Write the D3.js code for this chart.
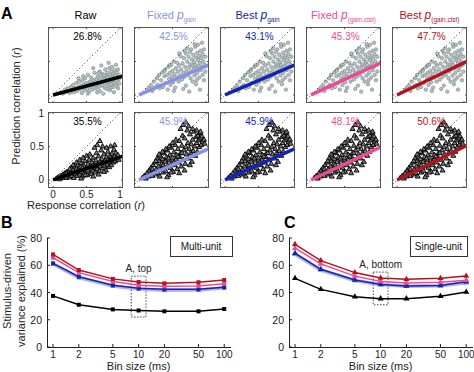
<!DOCTYPE html>
<html><head><meta charset="utf-8">
<script src="https://cdn.jsdelivr.net/npm/d3@7"></script>
<style>
html,body{margin:0;padding:0;background:#fff;}
svg{display:block;font-family:"Liberation Sans",Arial,Helvetica,sans-serif;}
</style></head>
<body><svg id="c" width="474" height="372"></svg>
<script>
// ---------- DATA ----------
const modelNames = ["Raw","Fixed","Best","Fixed","Best"];
const modelSubs = ["","gain","gain","(gain,clst)","(gain,clst)"];
const modelColors = ["#000000","#8792e4","#1424ae","#ec4b94","#b3131f"];
const topPercents = ["26.8%","42.5%","43.1%","45.3%","47.7%"];
const bottomPercents = ["35.5%","45.9%","45.9%","48.1%","50.6%"];
const topSlopes = [0.27,0.43,0.43,0.46,0.48];
const bottomSlopes = [0.34,0.45,0.45,0.475,0.495];
const scatterTicks = [0,0.5,1];
const scatterTickLabels = ["0","0.5","1"];

const xTop = [0.12,0.15,0.18,0.20,0.22,0.25,0.27,0.28,0.30,0.31,0.33,0.35,0.36,0.38,0.39,0.40,0.42,0.43,0.44,0.45,0.46,0.47,0.48,0.49,0.50,0.51,0.52,0.53,0.54,0.55,0.56,0.57,0.58,0.59,0.60,0.61,0.62,0.63,0.64,0.65,0.66,0.67,0.68,0.69,0.70,0.70,0.71,0.72,0.73,0.74,0.75,0.75,0.76,0.77,0.78,0.78,0.79,0.80,0.80,0.81,0.82,0.82,0.83,0.84,0.84,0.85,0.85,0.86,0.87,0.87,0.88,0.88,0.89,0.90,0.90,0.91,0.91,0.92,0.92,0.93,0.94,0.94,0.95,0.95,0.96,0.97,0.97,0.98,0.99,0.99,0.60,0.72,0.52,0.66,0.83,0.45,0.38,0.76,0.86,0.68];
const yTopRaw = [0.04,0.02,0.08,0.05,0.10,0.03,0.12,0.07,0.15,0.04,0.10,0.18,0.06,0.12,0.20,0.09,0.14,0.03,0.22,0.11,0.16,0.07,0.25,0.13,0.18,0.09,0.30,0.15,0.05,0.20,0.12,0.26,0.17,0.08,0.22,0.14,0.33,0.19,0.10,0.24,0.16,0.28,0.12,0.21,0.35,0.06,0.18,0.26,0.14,0.31,0.20,0.02,0.24,0.11,0.38,0.17,0.28,0.22,0.09,0.33,0.19,0.26,0.14,0.40,0.23,0.30,0.07,0.20,0.35,0.16,0.27,0.42,0.22,0.12,0.31,0.25,0.04,0.37,0.18,0.29,0.21,0.45,0.14,0.33,0.26,0.10,0.38,0.23,0.30,0.17,0.40,0.44,0.02,0.04,0.48,0.28,0.25,0.30,0.11,0.33];
const yTopModel = [0.08,0.10,0.14,0.06,0.20,0.12,0.25,0.15,0.30,0.10,0.22,0.34,0.12,0.28,0.38,0.18,0.30,0.08,0.42,0.24,0.33,0.15,0.45,0.27,0.36,0.19,0.50,0.31,0.11,0.40,0.26,0.48,0.35,0.20,0.44,0.29,0.58,0.38,0.23,0.47,0.33,0.55,0.27,0.42,0.62,0.14,0.36,0.50,0.30,0.57,0.41,0.05,0.46,0.25,0.68,0.35,0.53,0.44,0.20,0.60,0.39,0.49,0.29,0.72,0.45,0.56,0.16,0.40,0.63,0.33,0.52,0.75,0.43,0.26,0.58,0.48,0.08,0.66,0.37,0.55,0.42,0.78,0.30,0.61,0.50,0.22,0.68,0.45,0.57,0.35,0.62,0.70,0.06,0.09,0.76,0.44,0.36,0.64,0.22,0.66];

const xBot = [0.05,0.08,0.10,0.12,0.14,0.15,0.17,0.18,0.20,0.21,0.22,0.24,0.25,0.26,0.27,0.28,0.29,0.30,0.31,0.32,0.33,0.34,0.35,0.36,0.37,0.38,0.39,0.40,0.41,0.42,0.43,0.44,0.45,0.46,0.47,0.48,0.49,0.50,0.51,0.52,0.53,0.54,0.55,0.56,0.57,0.58,0.59,0.60,0.61,0.62,0.63,0.64,0.65,0.66,0.67,0.68,0.69,0.70,0.71,0.72,0.73,0.74,0.75,0.76,0.77,0.78,0.79,0.80,0.81,0.82,0.83,0.84,0.85,0.86,0.87,0.88,0.89,0.90,0.91,0.92,0.93,0.94,0.95,0.97,0.98,0.35,0.40,0.30,0.45,0.50,0.55,0.60,0.66,0.70,0.74,0.62,0.68,0.25,0.20,0.44,0.52,0.58,0.64,0.76,0.80,0.86,0.92,0.48,0.36,0.42];
const yBotRaw = [0.02,0.04,0.01,0.06,0.03,0.08,0.05,0.10,0.03,0.12,0.07,0.14,0.04,0.09,0.18,0.06,0.11,0.15,0.03,0.20,0.09,0.13,0.17,0.06,0.22,0.11,0.15,0.08,0.19,0.25,0.12,0.05,0.16,0.21,0.10,0.28,0.14,0.18,0.07,0.23,0.12,0.30,0.16,0.20,0.09,0.26,0.14,0.33,0.18,0.22,0.11,0.29,0.40,0.16,0.24,0.35,0.13,0.27,0.20,0.44,0.31,0.17,0.25,0.38,0.21,0.29,0.14,0.34,0.23,0.42,0.27,0.19,0.36,0.30,0.22,0.39,0.33,0.26,0.45,0.35,0.28,0.40,0.32,0.37,0.30,0.26,0.30,0.22,0.33,0.36,0.38,0.05,0.52,0.58,0.50,0.48,0.08,0.16,0.09,0.18,0.14,0.19,0.21,0.12,0.48,0.50,0.52,0.07,0.12,0.02];
const yBotModel = [0.03,0.06,0.02,0.10,0.05,0.14,0.08,0.18,0.06,0.22,0.12,0.26,0.08,0.16,0.32,0.10,0.20,0.28,0.05,0.35,0.15,0.24,0.31,0.11,0.40,0.19,0.27,0.13,0.34,0.44,0.21,0.07,0.29,0.37,0.18,0.48,0.25,0.33,0.12,0.41,0.22,0.52,0.30,0.37,0.16,0.46,0.26,0.58,0.34,0.40,0.20,0.51,0.66,0.30,0.44,0.62,0.24,0.49,0.38,0.74,0.55,0.32,0.46,0.68,0.40,0.53,0.27,0.60,0.43,0.72,0.50,0.36,0.64,0.55,0.42,0.66,0.59,0.49,0.70,0.62,0.52,0.65,0.57,0.60,0.54,0.42,0.46,0.38,0.50,0.55,0.60,0.10,0.82,0.86,0.80,0.76,0.14,0.28,0.16,0.32,0.26,0.35,0.40,0.22,0.76,0.74,0.72,0.11,0.22,0.04];

const binSizes = [1,2,5,10,20,50,100];
const binTickLabels = ["1","2","5","10","20","50","100"];
const varTicks = [0,20,40,60,80];
const multiRaw = [37.5,31,27.6,26.8,26.2,26.2,27.9];
const multiFixedGain = [61,51,44.8,42.5,41.6,41.8,43.4];
const multiBestGain = [61.4,51.6,45.3,43.1,42.3,42.3,43.8];
const multiFixedClst = [65.5,54.6,48,45.3,44.5,44.8,46.5];
const multiBestClst = [68,56.5,50,47.7,46.7,47.5,49.2];
const singleRaw = [50.4,42.3,36.9,35.5,35.5,37.2,40.4];
const singleFixedGain = [68,56.5,48.8,45.9,44.6,45,47.2];
const singleBestGain = [68.8,57,49.2,45.9,44.8,45.2,47.9];
const singleFixedClst = [72.5,61,52,48.1,47,47.5,49];
const singleBestClst = [75.4,63.4,54.6,50.6,49.7,50.4,52.1];

// ---------- DRAW ----------
const svg = d3.select("#c");
const panelLefts = [48,134,220,306,392];
const rowTops = [27,112];
const PW = 75, PH = 76;
const TXT = "#222";

function addTitle(g, x, y, name, sub, color){
  const t = g.append("text").attr("x",x).attr("y",y).attr("text-anchor","middle")
    .attr("font-size",11).attr("fill",color);
  t.append("tspan").text(name + (sub ? " " : ""));
  if(sub){
    t.append("tspan").attr("font-style","italic").attr("font-size",12).text("p");
    t.append("tspan").attr("font-size",6.5).attr("dy",3).text(sub);
  }
}

svg.append("text").attr("x",1).attr("y",19).attr("font-size",16).attr("font-weight","bold").text("A");

const rows = [
  {x:xTop, yRaw:yTopRaw, yModel:yTopModel, perc:topPercents, slopes:topSlopes, marker:"circle"},
  {x:xBot, yRaw:yBotRaw, yModel:yBotModel, perc:bottomPercents, slopes:bottomSlopes, marker:"tri"}
];

rows.forEach((row, ri) => {
  const n = Math.min(row.x.length, row.yRaw.length, row.yModel.length);
  modelNames.forEach((name, pi) => {
    const left = panelLefts[pi], top = rowTops[ri];
    const xs = d3.scaleLinear().domain([-0.075,1.045]).range([left, left+PW]);
    const ys = d3.scaleLinear().domain([-0.12,1.015]).range([top+PH, top]);
    const g = svg.append("g");
    const clipId = "clip"+ri+"_"+pi;
    g.append("clipPath").attr("id",clipId).append("rect")
      .attr("x",left).attr("y",top).attr("width",PW).attr("height",PH);
    const inner = g.append("g").attr("clip-path","url(#"+clipId+")");
    const yv = pi===0 ? row.yRaw : row.yModel;
    const pts = d3.range(n).map(i => [row.x[i], yv[i]]);
    if(row.marker==="circle"){
      inner.selectAll("circle").data(pts).join("circle")
        .attr("cx",d=>xs(d[0])).attr("cy",d=>ys(d[1])).attr("r",1.7)
        .attr("fill","#b9c3c3").attr("stroke","#7b8a8a").attr("stroke-width",0.7);
    } else {
      const sym = d3.symbol().type(d3.symbolTriangle).size(11);
      inner.selectAll("path.pt").data(pts).join("path").attr("class","pt")
        .attr("d",sym).attr("transform",d=>`translate(${xs(d[0])},${ys(d[1])})`)
        .attr("fill","#777").attr("stroke","#000").attr("stroke-width",0.9);
    }
    inner.append("line").attr("x1",xs(-0.1)).attr("y1",ys(-0.1)).attr("x2",xs(1.05)).attr("y2",ys(1.05))
      .attr("stroke","#333").attr("stroke-width",1).attr("stroke-dasharray","1,2.6");
    const s = row.slopes[pi];
    inner.append("line").attr("x1",xs(0)).attr("y1",ys(0)).attr("x2",xs(1.045)).attr("y2",ys(1.045*s))
      .attr("stroke",modelColors[pi]).attr("stroke-width",3.5);
    g.append("rect").attr("x",left+0.5).attr("y",top+0.5).attr("width",PW-1).attr("height",PH-1)
      .attr("fill","none").attr("stroke","#555").attr("stroke-width",1);
    scatterTicks.forEach(t => {
      g.append("line").attr("x1",xs(t)).attr("x2",xs(t)).attr("y1",top+PH).attr("y2",top+PH-2).attr("stroke","#555");
      g.append("line").attr("x1",xs(t)).attr("x2",xs(t)).attr("y1",top).attr("y2",top+2).attr("stroke","#555");
      g.append("line").attr("y1",ys(t)).attr("y2",ys(t)).attr("x1",left).attr("x2",left+2).attr("stroke","#555");
      g.append("line").attr("y1",ys(t)).attr("y2",ys(t)).attr("x1",left+PW).attr("x2",left+PW-2).attr("stroke","#555");
    });
    g.append("text").attr("x",left+PW/2+2).attr("y",top+13).attr("text-anchor","middle")
      .attr("font-size",10).attr("fill",modelColors[pi]).text(row.perc[pi]);
    if(ri===0) addTitle(svg, left+PW/2, 19, name, modelSubs[pi], modelColors[pi]);
    if(ri===1 && pi===0){
      scatterTicks.forEach((t,k) => {
        svg.append("text").attr("x",xs(t)).attr("y",top+PH+10).attr("text-anchor","middle")
          .attr("font-size",10).attr("fill",TXT).text(scatterTickLabels[k]);
        svg.append("text").attr("x",left-4).attr("y",ys(t)+3.5).attr("text-anchor","end")
          .attr("font-size",10).attr("fill",TXT).text(scatterTickLabels[k]);
      });
    }
  });
});
{
  const t = svg.append("text").attr("transform","translate(20,106) rotate(-90)").attr("text-anchor","middle")
    .attr("font-size",11).attr("fill",TXT);
  t.append("tspan").text("Prediction correlation (");
  t.append("tspan").attr("font-style","italic").text("r");
  t.append("tspan").text(")");
  const t2 = svg.append("text").attr("x",86).attr("y",209).attr("text-anchor","middle")
    .attr("font-size",11).attr("fill",TXT);
  t2.append("tspan").text("Response correlation (");
  t2.append("tspan").attr("font-style","italic").text("r");
  t2.append("tspan").text(")");
}

// ---------- Line panels ----------
function linePanel(opts){
  const x = d3.scaleLog().domain([0.85,120]).range([opts.x0, opts.x1]);
  const y = d3.scaleLinear().domain([0,80]).range([347,238]);
  const g = svg.append("g");
  g.append("line").attr("x1",opts.x0+0.5).attr("x2",opts.x0+0.5).attr("y1",347.5).attr("y2",y(80)).attr("stroke",TXT);
  g.append("line").attr("x1",opts.x0).attr("x2",opts.x1).attr("y1",347.5).attr("y2",347.5).attr("stroke",TXT);
  varTicks.forEach(t => {
    g.append("line").attr("x1",opts.x0).attr("x2",opts.x0+3).attr("y1",y(t)).attr("y2",y(t)).attr("stroke",TXT);
    g.append("text").attr("x",opts.x0-5).attr("y",y(t)+4).attr("text-anchor","end").attr("font-size",10.5).attr("fill",TXT).text(t);
  });
  binSizes.forEach((b,k) => {
    g.append("line").attr("x1",x(b)).attr("x2",x(b)).attr("y1",347).attr("y2",344).attr("stroke",TXT);
    g.append("text").attr("x",x(b)).attr("y",357.5).attr("text-anchor","middle").attr("font-size",10).attr("fill",TXT).text(binTickLabels[k]);
  });
  g.append("text").attr("x",(x(1)+x(100))/2).attr("y",369.5).attr("text-anchor","middle").attr("font-size",11).attr("fill",TXT).text("Bin size (ms)");
  const bx0 = x(8.2), bx1 = x(12.2);
  g.append("rect").attr("x",bx0).attr("y",y(opts.boxTop)).attr("width",bx1-bx0).attr("height",y(opts.boxBot)-y(opts.boxTop))
    .attr("fill","none").attr("stroke","#333").attr("stroke-width",0.9).attr("stroke-dasharray","1.5,1.5");
  g.append("text").attr("x",x(10)).attr("y",y(opts.boxTop)-4).attr("text-anchor","middle").attr("font-size",10).attr("fill",TXT).text(opts.boxLabel);
  g.append("rect").attr("x",opts.lx+0.5).attr("y",236.5).attr("width",opts.lw).attr("height",20).attr("fill","#fff").attr("stroke","#333");
  g.append("text").attr("x",opts.lx+opts.lw/2).attr("y",250).attr("text-anchor","middle").attr("font-size",10).attr("fill","#111").text(opts.legend);
  const line = d3.line().x((d,i)=>x(binSizes[i])).y(d=>y(d));
  opts.series.forEach((s,si) => {
    const col = modelColors[si];
    g.append("path").datum(s).attr("d",line).attr("fill","none").attr("stroke",col)
      .attr("stroke-width", si===1 ? 3.5 : 1.5).attr("opacity", si===1 ? 0.7 : 1);
    if(opts.marker==="square"){
      g.selectAll(null).data(s).join("rect").attr("x",(d,i)=>x(binSizes[i])-2).attr("y",d=>y(d)-2)
        .attr("width",4).attr("height",4).attr("fill",col);
    } else {
      const sym = d3.symbol().type(d3.symbolTriangle).size(16);
      g.selectAll(null).data(s).join("path").attr("d",sym)
        .attr("transform",(d,i)=>`translate(${x(binSizes[i])},${y(d)})`).attr("fill",col);
    }
  });
}

svg.append("text").attr("x",1).attr("y",228).attr("font-size",16).attr("font-weight","bold").text("B");
svg.append("text").attr("x",284).attr("y",228).attr("font-size",16).attr("font-weight","bold").text("C");
{
  const t = svg.append("text").attr("transform","translate(11,291) rotate(-90)").attr("text-anchor","middle")
    .attr("font-size",11).attr("fill",TXT);
  t.append("tspan").attr("x",0).attr("dy",0).text("Stimulus-driven");
  t.append("tspan").attr("x",0).attr("dy",14).text("variance explained (%)");
}
linePanel({x0:47, x1:231, marker:"square", series:[multiRaw,multiFixedGain,multiBestGain,multiFixedClst,multiBestClst],
  boxTop:52, boxBot:22, boxLabel:"A, top", legend:"Multi-unit", lx:170, lw:62});
linePanel({x0:289, x1:473, marker:"tri", series:[singleRaw,singleFixedGain,singleBestGain,singleFixedClst,singleBestClst],
  boxTop:55, boxBot:31, boxLabel:"A, bottom", legend:"Single-unit", lx:410, lw:57});
</script></body></html>
